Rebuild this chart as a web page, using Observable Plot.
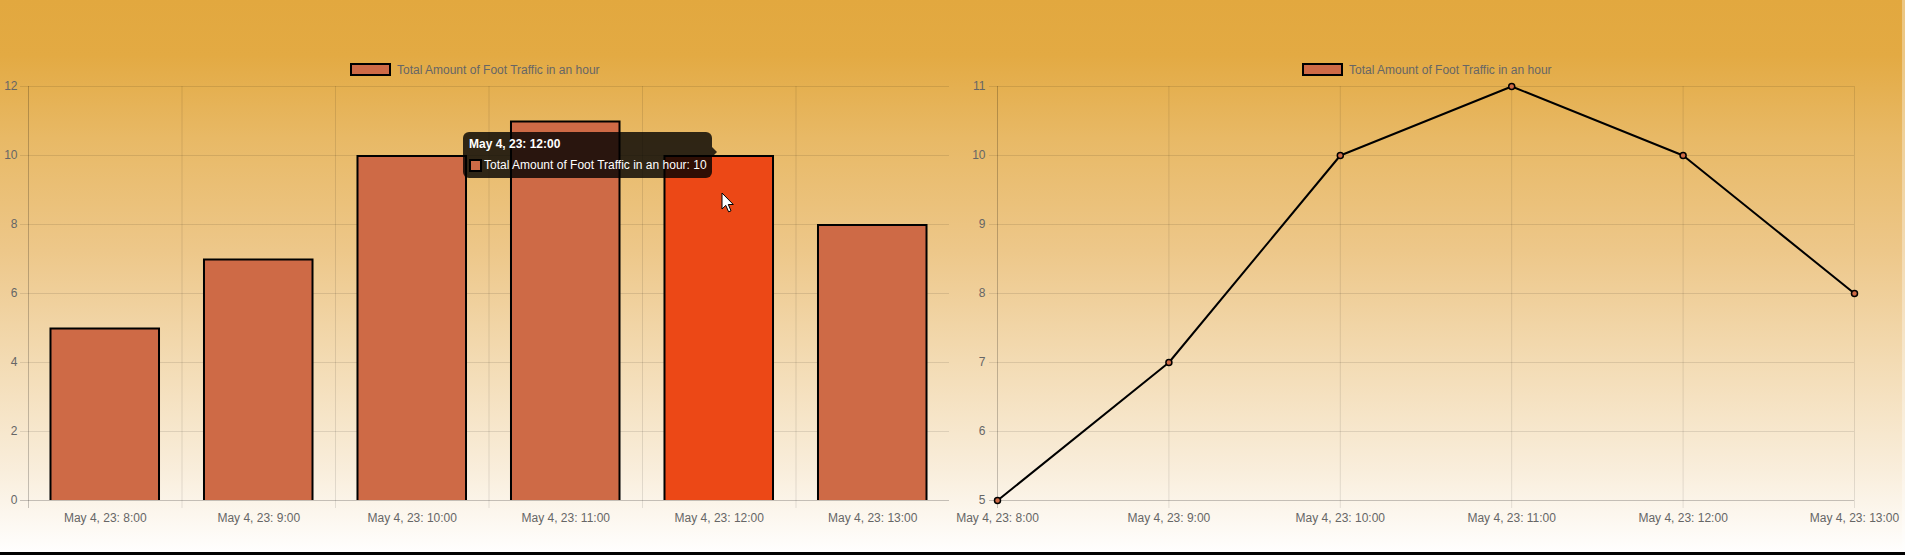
<!DOCTYPE html>
<html>
<head>
<meta charset="utf-8">
<script src="https://cdn.jsdelivr.net/npm/d3@7"></script>
<script src="https://cdn.jsdelivr.net/npm/@observablehq/plot@0.6"></script>
<style>
  html, body { margin: 0; padding: 0; overflow: hidden; }
  #wrap {
    position: relative; width: 1905px; height: 555px; overflow: hidden;
    background: linear-gradient(to bottom, #E2A83F 0%, #E3AA43 10%, #E8B966 25%, #EDC789 45%, #F3DBB3 65%, #F9EEDC 85%, #FFFFFF 100%);
    font-family: "Liberation Sans", Arial, Helvetica, sans-serif;
  }
  .chart { position: absolute; top: 0; }
  .legend { position: absolute; top: 63px; height: 13px; display: flex; align-items: center; font-size: 12px; color: #666; white-space: nowrap; }
  .legend .box { box-sizing: border-box; width: 41px; height: 13px; border: 2px solid #000; background: #CE6A46; margin-right: 6px; }
  #tooltip { position: absolute; left: 463px; top: 132px; width: 249px; height: 46px; background: rgba(0,0,0,0.8); border-radius: 6px; color: #fff; font-size: 12px; }
  #tooltip .title { position: absolute; left: 6px; top: 5px; font-weight: bold; }
  #tooltip .row { position: absolute; left: 6px; top: 26px; display: flex; align-items: center; white-space: nowrap; }
  #tooltip .swatch { box-sizing: border-box; width: 13px; height: 13px; border: 2px solid #000; background: #CE6A46; margin-right: 2px; }
  #caret { position: absolute; left: 712px; top: 147px; width: 0; height: 0; border-top: 5px solid transparent; border-bottom: 5px solid transparent; border-left: 5px solid rgba(0,0,0,0.8); }
  #cursor { position: absolute; left: 721px; top: 192px; }
  #bottomline { position: absolute; left: 0; top: 552px; width: 1905px; height: 3px; background: #000; }
  #edge { position: absolute; left: 1902px; top: 0; width: 3px; height: 552px; background: rgba(255,255,255,0.35); }
</style>
</head>
<body>
<div id="wrap">
  <div id="left" class="chart" style="left:0px"></div>
  <div id="right" class="chart" style="left:952px"></div>
</div>
<script>
// ---- data ----
const labels = ["May 4, 23: 8:00", "May 4, 23: 9:00", "May 4, 23: 10:00", "May 4, 23: 11:00", "May 4, 23: 12:00", "May 4, 23: 13:00"];
const traffic = [5, 7, 10, 11, 10, 8];
const barTicks = [0, 2, 4, 6, 8, 10, 12];
const lineTicks = [5, 6, 7, 8, 9, 10, 11];
const seriesName = "Total Amount of Foot Traffic in an hour";
const hovered = "May 4, 23: 12:00";

const baseColor = "#CE6A46";
const hoverColor = "#EC4816";
const gridColor = "rgba(0,0,0,0.1)";
const axisColor = "rgba(0,0,0,0.22)";
const font = "'Liberation Sans', Arial, Helvetica, sans-serif";

const table = labels.map((label, i) => ({label, value: traffic[i]}));

// ---- left: bar chart ----
{
  const W = 952, H = 555, ml = 28, mr = 3, mt = 86, mb = 55;
  const step = (W - ml - mr) / labels.length;
  const chart = Plot.plot({
    width: W, height: H,
    marginLeft: ml, marginRight: mr, marginTop: mt, marginBottom: mb,
    style: {background: "transparent", fontFamily: font, fontSize: "12px", overflow: "visible"},
    x: {type: "band", domain: labels, paddingInner: 0.28, paddingOuter: 0.14, round: false, axis: null},
    y: {domain: [0, 12], axis: null},
    marks: [
      Plot.ruleY(barTicks.filter(d => d !== 0), {y: d => d, stroke: gridColor, insetLeft: -8}),
      Plot.ruleX(labels.slice(1), {x: d => d, dx: -step / 2, stroke: gridColor, insetBottom: -8}),
      Plot.barY(table, {
        x: "label", y: "value",
        fill: d => d.label === hovered ? hoverColor : baseColor,
        stroke: "#000", strokeWidth: 2,
        insetLeft: 1, insetRight: 1, insetTop: 1, insetBottom: -4,
        clip: true
      }),
      Plot.ruleY([0], {y: d => d, stroke: axisColor, insetLeft: -8}),
      Plot.ruleX(labels.slice(0, 1), {x: d => d, dx: -step / 2, stroke: axisColor, insetBottom: -8}),
      Plot.axisY({ticks: barTicks, tickFormat: d => String(d), tickSize: 0, tickPadding: 11, fill: "#666", fontSize: 12, label: null}),
      Plot.axisX({tickSize: 0, tickPadding: 13, fill: "#666", fontSize: 12, label: null})
    ]
  });
  document.getElementById("left").append(chart);
}

// ---- right: line chart ----
{
  const W = 953, H = 555, ml = 45, mr = 51, mt = 86, mb = 55;
  const chart = Plot.plot({
    width: W, height: H,
    marginLeft: ml, marginRight: mr, marginTop: mt, marginBottom: mb,
    style: {background: "transparent", fontFamily: font, fontSize: "12px", overflow: "visible"},
    x: {type: "point", domain: labels, padding: 0, round: false, axis: null},
    y: {domain: [5, 11], axis: null},
    marks: [
      Plot.ruleY(lineTicks.filter(d => d !== 5), {y: d => d, stroke: gridColor, insetLeft: -8}),
      Plot.ruleX(labels.slice(1), {x: d => d, stroke: gridColor, insetBottom: -8}),
      Plot.ruleY([5], {y: d => d, stroke: axisColor, insetLeft: -8}),
      Plot.ruleX(labels.slice(0, 1), {x: d => d, stroke: axisColor, insetBottom: -8}),
      Plot.line(table, {x: "label", y: "value", stroke: "#000", strokeWidth: 2}),
      Plot.dot(table, {x: "label", y: "value", r: 3, fill: baseColor, stroke: "#000", strokeWidth: 1.5}),
      Plot.axisY({ticks: lineTicks, tickFormat: d => String(d), tickSize: 0, tickPadding: 12, fill: "#666", fontSize: 12, label: null}),
      Plot.axisX({tickSize: 0, tickPadding: 13, fill: "#666", fontSize: 12, label: null})
    ]
  });
  document.getElementById("right").append(chart);
}

// ---- legends, tooltip, decorations ----
const wrap = document.getElementById("wrap");
function legend(left) {
  const d = document.createElement("div");
  d.className = "legend";
  d.style.left = left + "px";
  d.innerHTML = `<div class="box"></div><span>${seriesName}</span>`;
  wrap.append(d);
}
legend(350);
legend(1302);

const hv = table.find(d => d.label === hovered);
const tip = document.createElement("div");
tip.id = "tooltip";
tip.innerHTML = `<div class="title">${hv.label}</div><div class="row"><div class="swatch"></div><span>${seriesName}: ${hv.value}</span></div>`;
wrap.append(tip);
const caret = document.createElement("div");
caret.id = "caret";
wrap.append(caret);

const cur = document.createElement("div");
cur.id = "cursor";
cur.innerHTML = `<svg width="14" height="22" viewBox="0 0 14 22"><path d="M1,1 L1,17 L4.8,13.4 L7.6,19.8 L10,18.8 L7.3,12.5 L12.3,12.5 Z" fill="#fff" stroke="#000" stroke-width="1" stroke-linejoin="round"/></svg>`;
wrap.append(cur);

const edge = document.createElement("div"); edge.id = "edge"; wrap.append(edge);
const bl = document.createElement("div"); bl.id = "bottomline"; wrap.append(bl);
</script>
</body>
</html>
